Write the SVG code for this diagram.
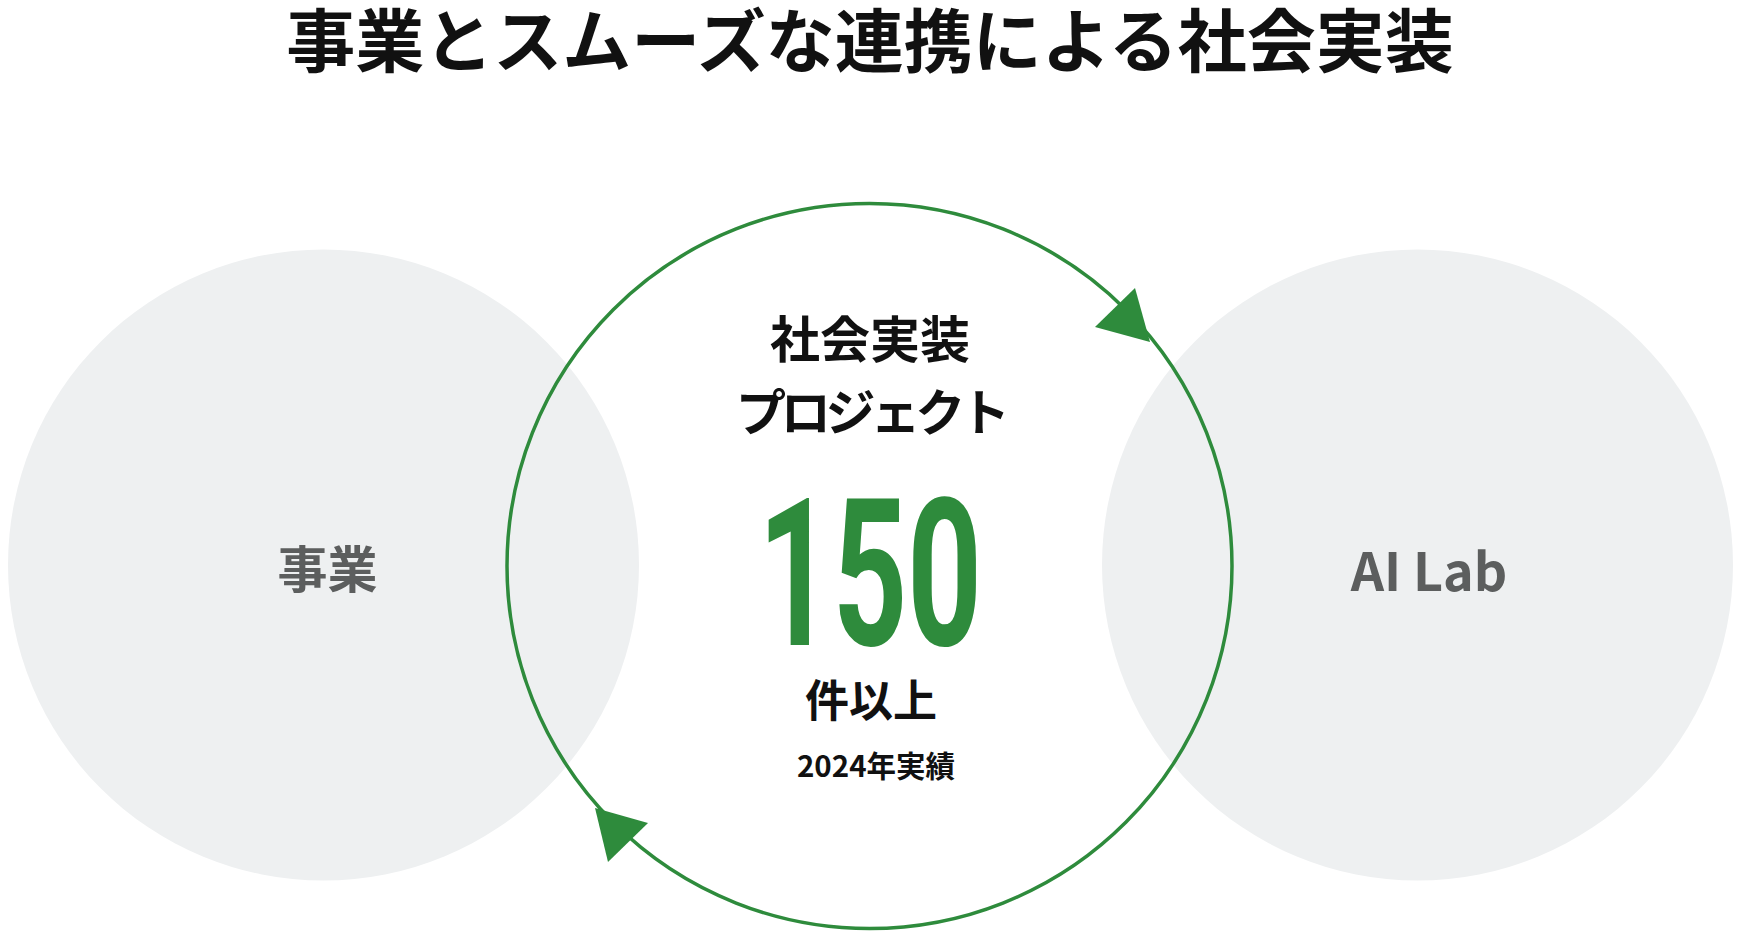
<svg xmlns="http://www.w3.org/2000/svg" width="1740" height="944" viewBox="0 0 1740 944">
<style>
.cjk{font-family:"Noto Sans CJK JP","Noto Sans",sans-serif;font-weight:700;text-anchor:middle}
.bg{fill:#eef0f1}
.lbl{fill:#5c5e5e}
.dark{fill:#111111}
.arrow{fill:#2e8b3c}
</style>
<rect width="1740" height="944" fill="#ffffff"/>
<text class="cjk dark" x="870" y="67" font-size="69" font-weight="900">事業とスムーズな連携による社会実装</text>
<g id="node-jigyo">
<circle class="bg" cx="323.5" cy="565" r="315.5"/>
<text class="cjk lbl" x="327.5" y="588" font-size="50">事業</text>
</g>
<g id="node-ailab">
<circle class="bg" cx="1417.5" cy="565" r="315.5"/>
<text class="cjk lbl" x="1429" y="591" font-size="52">AI Lab</text>
</g>
<g id="connectors">
<circle cx="869.5" cy="566" r="362.5" fill="none" stroke="#2e8b3c" stroke-width="3.5"/>
<polygon class="arrow" points="1150,342 1135,288 1095,327"/>
<polygon class="arrow" points="595,808 648,823 608,862"/>
</g>
<g id="node-center">
<text class="cjk dark" x="870" y="358" font-size="50">社会実装</text>
<text class="cjk dark" x="873" y="431" font-size="50" textLength="274">プロジェクト</text>
<text x="870" y="645" font-family="Roboto,'Liberation Sans',sans-serif" font-weight="700" font-size="206" fill="#2e8b3c" text-anchor="middle" textLength="224" lengthAdjust="spacingAndGlyphs">150</text>
<text class="cjk dark" x="871" y="717" font-size="44">件以上</text>
<text class="cjk dark" x="876" y="777" font-size="29.5">2024年実績</text>
</g>
</svg>
